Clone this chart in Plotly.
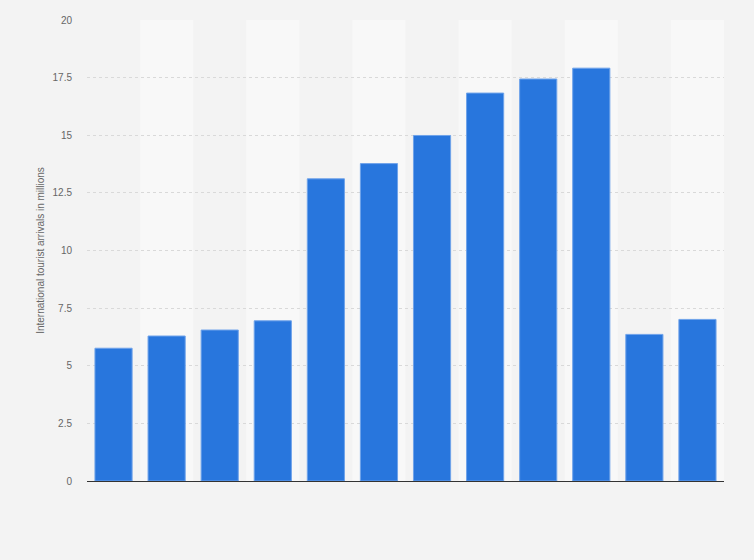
import plotly.graph_objects as go

categories = ["1", "2", "3", "4", "5", "6", "7", "8", "9", "10", "11", "12"]
arrivals = [5.76, 6.29, 6.55, 6.95, 13.11, 13.77, 14.99, 16.83, 17.44, 17.91, 6.36, 7.01]
y_ticks = [0, 2.5, 5, 7.5, 10, 12.5, 15, 17.5, 20]
y_tick_labels = ["0", "2.5", "5", "7.5", "10", "12.5", "15", "17.5", "20"]

fig = go.Figure()
fig.add_trace(go.Bar(
    x=categories,
    y=arrivals,
    marker=dict(color="#2876dd", line=dict(color="#6fa3ea", width=1)),
))

shapes = []
for i, c in enumerate(categories):
    if i % 2 == 1:
        shapes.append(dict(type="rect", xref="x", yref="paper", x0=i - 0.5, x1=i + 0.5,
                           y0=0, y1=1, fillcolor="#f8f8f8", line=dict(width=0), layer="below"))

fig.update_layout(
    width=754, height=560,
    margin=dict(l=87, r=30, t=20, b=79),
    paper_bgcolor="#f3f3f3",
    plot_bgcolor="#f3f3f3",
    bargap=0.3,
    showlegend=False,
    shapes=shapes,
    font=dict(family="Arial, Liberation Sans, sans-serif", color="#666666", size=10),
    xaxis=dict(showticklabels=False, showgrid=False, zeroline=False,
               showline=True, linecolor="#333333", linewidth=1.2, ticks=""),
    yaxis=dict(range=[0, 20], tickvals=y_ticks, ticktext=y_tick_labels,
               showgrid=True, gridcolor="#d9d9d9", griddash="dot", gridwidth=1,
               zeroline=False, ticks="", ticklabelstandoff=14,
               title=dict(text="International tourist arrivals in millions",
                          font=dict(size=10, color="#666666"), standoff=6)),
)

fig.write_html("out.html", config={"displayModeBar": False},
               post_script="document.body.style.margin='0';document.body.style.background='#f3f3f3';document.body.style.overflow='hidden';")
